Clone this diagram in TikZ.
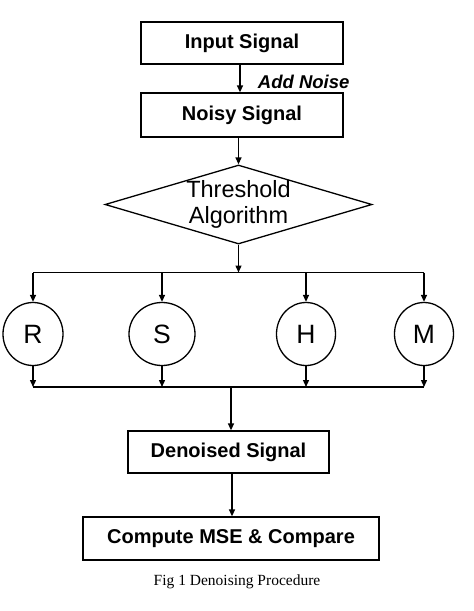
\documentclass[tikz,border=0pt]{standalone}
\usepackage{fontspec}
\setmainfont{Liberation Sans}
\newfontfamily\capfont{Liberation Serif}
\usetikzlibrary{shapes.geometric,arrows.meta}
\begin{document}
\begin{tikzpicture}[x=1pt,y=-1pt,
  line width=1.3pt,
  arr/.style={-{Triangle[length=7pt,width=6pt]}},
  boxnode/.style={draw,rectangle,inner sep=0pt,font=\bfseries\fontsize{20}{22}\selectfont},
  circnode/.style={draw,ellipse,inner sep=0pt,minimum width=59pt,minimum height=63pt,font=\fontsize{26.5}{28}\selectfont}]
\useasboundingbox (0,0) rectangle (474,611);
\node[boxnode,minimum width=202pt,minimum height=42pt] (in) at (242,43) {Input Signal};
\node[boxnode,minimum width=202pt,minimum height=44pt] (noisy) at (242,115) {Noisy Signal};
\node[font=\bfseries\itshape\fontsize{18.5}{20}\selectfont,anchor=west] (addn) at (254,82) {Add Noise};
\node[diamond,draw,inner sep=0pt,minimum width=267pt,minimum height=79pt] (thr) at (238.5,204.5) {};
\node[align=center,font=\fontsize{23.5}{26}\selectfont] (thrtext) at (thr.center) {Threshold\\Algorithm};
\node[circnode,minimum width=60pt] (R) at (33,334) {R};
\node[circnode,minimum width=66pt] (S) at (162,334) {S};
\node[circnode] (H) at (306,334) {H};
\node[circnode] (M) at (424,334) {M};
\node[boxnode,minimum width=201pt,minimum height=42pt] (den) at (228.5,452) {Denoised Signal};
\node[boxnode,minimum width=296pt,minimum height=43pt] (mse) at (231,538.5) {Compute MSE \& Compare};
\node[font=\capfont\fontsize{15.5}{17}\selectfont] (cap) at (237,582) {Fig 1 Denoising Procedure};
\coordinate (tb) at (238.5,272.5);
\coordinate (tbL) at (33,272.5);
\coordinate (tbR) at (424,272.5);
\coordinate (bb) at (231,387);
\coordinate (bbL) at (33,387);
\coordinate (bbR) at (424,387);
\draw[arr] (in.south -| 240,0) -- (noisy.north -| 240,0);
\draw[arr] (noisy.south -| thr.north) -- (thr.north);
\draw[arr] (thr.south) -- (tb);
\draw (tbL) -- (tbR);
\foreach \n in {R,S,H,M}{
  \draw[arr] (tbL -| \n.north) -- (\n.north);
  \draw[arr] (\n.south) -- (bbL -| \n.south);
}
\draw (bbL) -- (bbR);
\draw[arr] (bb) -- (den.north -| bb);
\draw[arr] (den.south -| 232,0) -- (mse.north -| 232,0);
\end{tikzpicture}
\end{document}
